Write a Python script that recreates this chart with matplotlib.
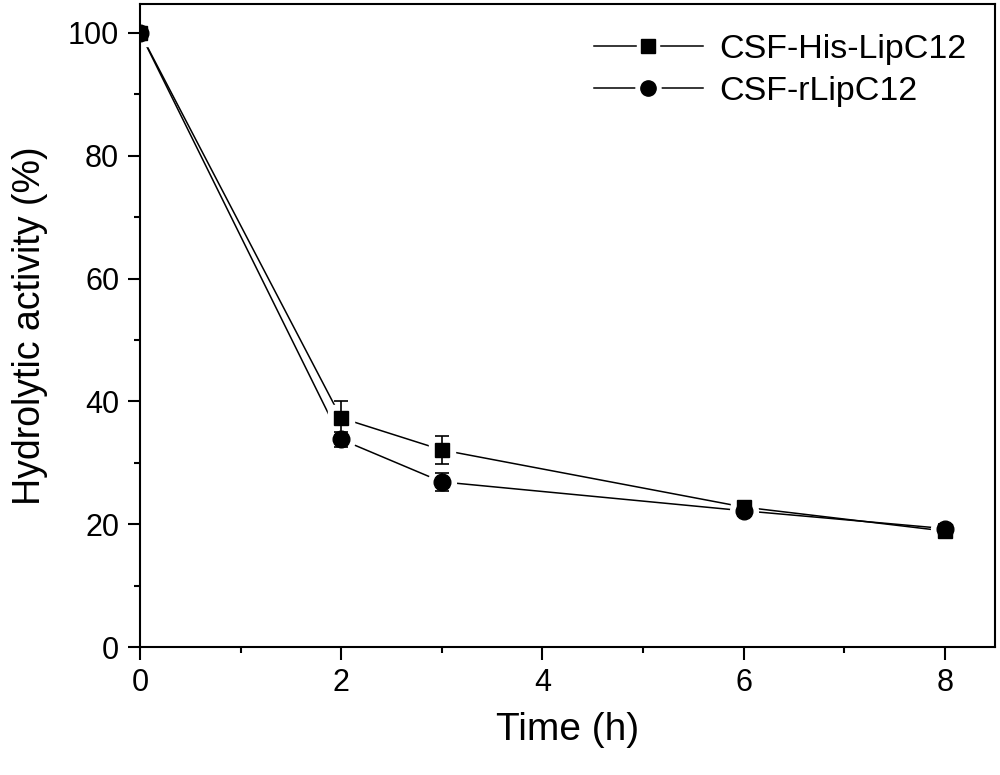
import matplotlib
matplotlib.use("Agg")
import matplotlib.pyplot as plt
from matplotlib.lines import Line2D
from matplotlib.legend_handler import HandlerTuple
from matplotlib.ticker import MultipleLocator

plt.rcParams['font.family'] = ['Liberation Sans', 'DejaVu Sans']

time_h = [0, 2, 3, 6, 8]
his_lip = [100, 37.3, 32.1, 22.8, 18.9]
his_err = [0.6, 2.8, 2.3, 0.8, 1.0]
r_lip = [100, 33.8, 26.9, 22.2, 19.3]
r_err = [0.6, 1.2, 1.5, 0.8, 0.8]
labels = ["CSF-His-LipC12", "CSF-rLipC12"]

fig = plt.figure(figsize=(10, 7.75), dpi=100)
ax = fig.add_axes([0.14, 0.165, 0.855, 0.83])

handles = []
for y, e, m, ms, lab in [(his_lip, his_err, 's', 10.5, labels[0]),
                          (r_lip, r_err, 'o', 12, labels[1])]:
    ax.plot(time_h, y, '-', color='black', lw=1.1, zorder=2)
    ax.errorbar(time_h, y, yerr=e, fmt='none', ecolor='black', elinewidth=1.2,
                capsize=5, capthick=1.2, zorder=3)
    ax.plot(time_h, y, m, color='white', ms=ms + 8, mec='white', zorder=2.5, ls='none')
    ax.plot(time_h, y, m, color='black', ms=ms, mec='black', zorder=4, ls='none')
    h = (Line2D([0], [0], color='black', lw=1.1),
         Line2D([0], [0], marker=m, color='white', ms=ms + 6, ls='none'),
         Line2D([0], [0], marker=m, color='black', ms=ms - 1, ls='none'))
    handles.append(h)

ax.legend(handles, labels, handler_map={tuple: HandlerTuple(ndivide=1, pad=0)},
          loc='upper right', bbox_to_anchor=(0.995, 0.99), frameon=False,
          fontsize=24.5, handlelength=3.2, handletextpad=0.5, labelspacing=0.33,
          borderaxespad=0.3)

ax.set_xlim(0, 8.5)
ax.set_ylim(0, 104.7)
ax.xaxis.set_major_locator(MultipleLocator(2))
ax.xaxis.set_minor_locator(MultipleLocator(1))
ax.yaxis.set_major_locator(MultipleLocator(20))
ax.yaxis.set_minor_locator(MultipleLocator(10))
ax.tick_params(which='major', direction='out', length=9, width=1.5, labelsize=22, pad=6)
ax.tick_params(which='minor', direction='out', length=4.5, width=1.5)
for s in ax.spines.values():
    s.set_linewidth(1.5)

ax.set_xlabel("Time (h)", fontsize=28, labelpad=10)
ax.set_ylabel("Hydrolytic activity (%)", fontsize=27, labelpad=14)

fig.savefig("out.png", dpi=100)
